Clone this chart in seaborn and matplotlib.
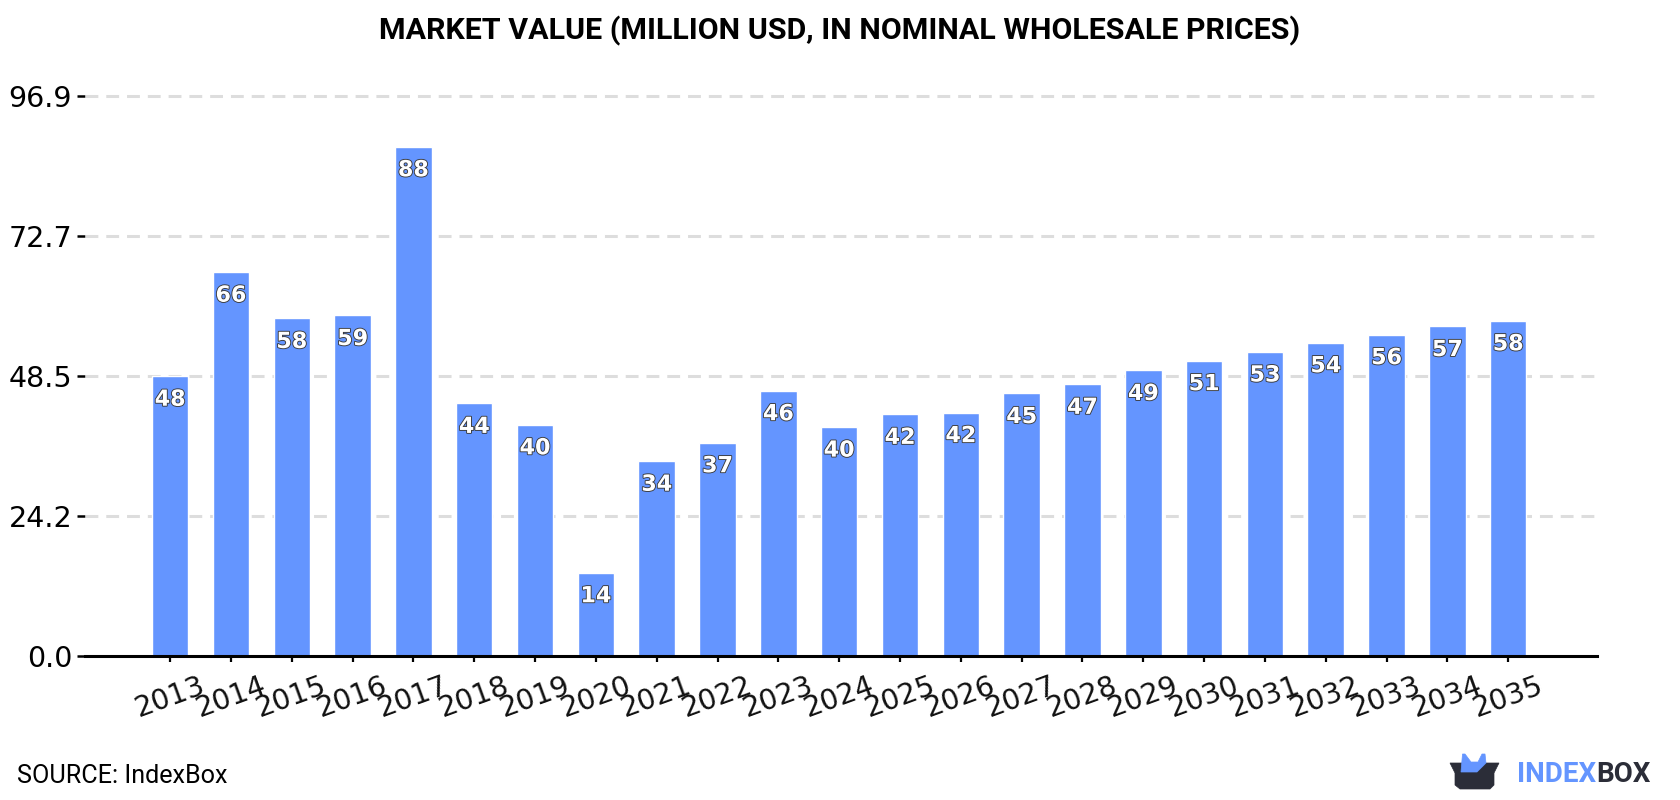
import matplotlib
matplotlib.use("Agg")
import matplotlib.pyplot as plt
import matplotlib.patheffects as pe
from matplotlib.patches import Polygon
import pandas as pd
import seaborn as sns

years = list(range(2013, 2036))
values = [48.4, 66.4, 58.4, 58.9, 88.1, 43.7, 40.0, 14.4, 33.7, 36.9, 45.9, 39.6,
          41.8, 42.1, 45.4, 47.0, 49.4, 51.1, 52.6, 54.2, 55.6, 57.0, 58.0]
y_ticks = [0.0, 24.2, 48.5, 72.7, 96.9]
title = "MARKET VALUE (MILLION USD, IN NOMINAL WHOLESALE PRICES)"
source = "SOURCE: IndexBox"

W, H = 1680, 800
BLUE = "#6495ff"
DARK = "#2b2d38"

sns.set_theme(style="white")
plt.rcParams["font.family"] = ["DejaVu Sans"]

fig = plt.figure(figsize=(W / 100, H / 100), dpi=100, facecolor="white")
ax = fig.add_axes([85 / W, 1 - 655.9 / H, (1597 - 85) / W, (655.9 - 95.8) / H])

df = pd.DataFrame({"year": [str(y) for y in years], "value": values})
sns.barplot(data=df, x="year", y="value", color=BLUE, saturation=1, width=0.6, ax=ax, zorder=3)

ax.set_xlim(-1.40, 23.46)
ax.set_ylim(0, 96.9)
ax.set_xlabel("")
ax.set_ylabel("")
ax.set_yticks(y_ticks, [f"{t:.1f}" for t in y_ticks])

for t in y_ticks[1:]:
    ax.axhline(t, color="#dddddd", lw=2.2, dashes=(4.2, 2.6), zorder=1, clip_on=False)

for side in ("top", "right", "left"):
    ax.spines[side].set_visible(False)
ax.spines["bottom"].set_linewidth(2.2)
ax.spines["bottom"].set_color("black")
ax.spines["bottom"].set_zorder(5)

ax.tick_params(axis="y", left=True, length=6, width=1.8, color="black",
               labelsize=20.5, labelcolor="black", pad=3.2)
ax.tick_params(axis="x", bottom=True, length=4.5, width=1.6, color="black", labelsize=20.5,
               labelcolor="#111111", pad=6.5)
for lab in ax.get_xticklabels():
    lab.set_rotation(20)
    lab.set_ha("center")

# Value labels sit just inside the top of each bar
for i, v in enumerate(values):
    ax.annotate(f"{v:.0f}", (i, v), xytext=(0, -17), textcoords="offset points",
                ha="center", va="center", color="white", fontsize=16, fontweight="bold",
                zorder=6, path_effects=[pe.withStroke(linewidth=1.3, foreground="#3a3a3a")])

fig.text(784 / 1568, 1 - 31 / H, title, family="Roboto", fontweight="bold",
         fontsize=21.9, color="black", ha="center", va="center")
fig.text(17 / W, 1 - 776 / H, source, family="Roboto", fontsize=18.1, color="black",
         ha="left", va="center")


# Brand mark, placed in pixel positions on the figure
def px(points):
    return [(x / W, 1 - y / H) for x, y in points]


body = [(1450, 763), (1499, 763), (1494, 773), (1494, 785), (1490, 789), (1460, 789),
        (1455, 785), (1455, 773)]
flap = [(1461, 772), (1462.5, 754), (1465, 754), (1471, 762), (1478, 762), (1482, 754),
        (1485, 754), (1486, 763), (1477, 772)]
fig.add_artist(Polygon(px(body), closed=True, transform=fig.transFigure, fc=DARK, ec=DARK, lw=0.5))
fig.add_artist(Polygon(px(flap), closed=True, transform=fig.transFigure, fc=BLUE, ec=BLUE, lw=0.5))
fig.text(1596 / W, 1 - 774 / H, "INDEX", family="Roboto", fontweight="bold", fontsize=20,
         color=BLUE, ha="right", va="center")
fig.text(1596 / W, 1 - 774 / H, "BOX", family="Roboto", fontweight="bold", fontsize=20,
         color=DARK, ha="left", va="center")

fig.savefig("out.png", dpi=100, facecolor="white")
